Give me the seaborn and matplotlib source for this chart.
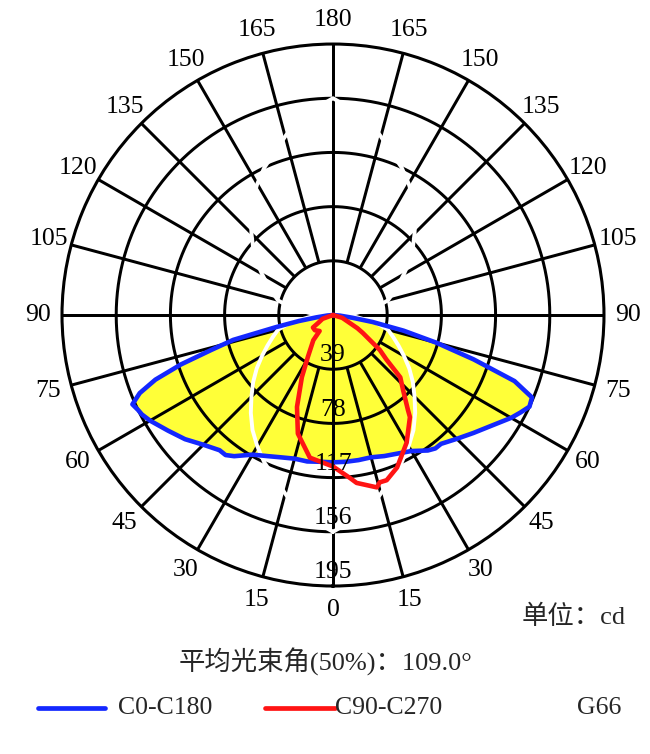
import numpy as np
import pandas as pd
import matplotlib
matplotlib.use("Agg")
import matplotlib.pyplot as plt
from matplotlib.lines import Line2D
import seaborn as sns

# ---------------- data (angles in degrees from nadir, intensity in cd) ----------------
ring_values = [39, 78, 117, 156, 195]
angle_step_labels = [0, 15, 30, 45, 60, 75, 90, 105, 120, 135, 150, 165, 180]

# C0-C180 (blue, filled yellow): right half (C0) and left half (C180)
blue_right_deg = [0, 5, 10, 15, 20, 25, 30, 35, 37.5, 40, 45, 50, 55, 60, 62.5, 65,
                  67.5, 70, 72.5, 75, 77.5, 80, 82, 85, 90]
blue_right_cd = [106, 106, 106, 106, 108, 110, 113, 119, 121, 121, 126, 132, 139, 148, 152, 156,
                 155, 139, 106, 77, 52, 29, 14, 5, 0]
blue_left_deg = [0, 5, 10, 15, 20, 25, 30, 35, 37.5, 40, 45, 50, 55, 60, 62.5, 64, 66,
                 68, 70, 72, 74, 76, 78, 80, 82, 85, 90]
blue_left_cd = [106, 106, 107, 107, 109, 112, 116, 124, 127, 127, 132, 139, 145, 152, 155, 156, 158,
                150, 136, 115, 91, 74, 42, 25, 12, 4, 0]

# C90-C270 (red) path, signed angle (negative = left side)
red_deg = [-90, -70, -62, -58, -50, -40, -38, -31, -26.6, -21.4, -16.5, -9.2, 0, 6, 8, 14.3,
           15.6, 18, 22.8, 30, 37, 38.3, 43, 47.2, 50.2, 53.3, 59, 61.6, 73, 90]
red_cd = [0, 8, 12, 17, 17, 15, 23, 35, 50, 71, 89, 104, 109, 118, 122, 128,
          125, 125, 119, 106, 92, 87, 74, 66, 50, 42, 25, 20, 7, 0]

# G66 (white) quarter profile, mirrored to all four quadrants
white_deg = [0, 10, 15, 20, 25, 30, 35, 40, 45, 50, 55, 60, 65, 70, 75, 80, 85, 90]
white_cd = [156, 144, 133, 124, 117, 109, 101, 92, 83, 75, 67, 59, 52, 46, 41, 31, 17, 0]

legend_names = ["C0-C180", "C90-C270", "G66"]
unit_text = "单位：cd"
beam_text = "平均光束角(50%)：109.0°"

# ---------------- build curves ----------------
br = np.array(blue_right_deg); bl = np.array(blue_left_deg)
blue_theta = np.deg2rad(np.concatenate([br[::-1], -bl]))
blue_r = np.concatenate([np.array(blue_right_cd)[::-1], np.array(blue_left_cd)])
blue_df = pd.DataFrame({"theta": blue_theta, "r": blue_r})

red_df = pd.DataFrame({"theta": np.deg2rad(red_deg), "r": red_cd})

wd = np.array(white_deg, dtype=float); wc = np.array(white_cd, dtype=float)
w_theta = np.concatenate([wd, 180 - wd[::-1], 180 + wd, 360 - wd[::-1]])
w_r = np.concatenate([wc, wc[::-1], wc, wc[::-1]])
white_df = pd.DataFrame({"theta": np.deg2rad(w_theta), "r": w_r})

# ---------------- figure ----------------
sns.set_theme(style="white")
plt.rcParams["font.family"] = ["Liberation Serif", "Noto Sans CJK SC", "DejaVu Sans"]

fig = plt.figure(figsize=(6.5, 7.54), dpi=100)
fig.patch.set_facecolor("white")
ax = fig.add_axes([0.0954, 0.2228, 0.8338, 0.7188], projection="polar")
ax.set_theta_zero_location("S")
ax.set_theta_direction(1)
ax.set_ylim(0, ring_values[-1])
ax.set_xticks([]); ax.set_yticks([])
ax.grid(False)
ax.set_facecolor("white")
ax.spines["polar"].set_linewidth(2.2)
ax.spines["polar"].set_color("black")

grid_lw = 2.15
full = np.linspace(0, 2 * np.pi, 721)
for v in ring_values[:-1]:
    ax.plot(full, np.full_like(full, v), color="black", lw=grid_lw, zorder=2)
for a in range(0, 360, 15):
    t = np.deg2rad(a)
    r0 = 0 if a % 90 == 0 else ring_values[0]
    ax.plot([t, t], [r0, ring_values[-1]], color="black", lw=grid_lw, zorder=2,
            solid_capstyle="butt")

# yellow fill under grid
ax.fill(blue_df["theta"], blue_df["r"], color="#FFFF38", zorder=1, lw=0)

sns.lineplot(data=white_df, x="theta", y="r", sort=False, estimator=None,
             color="white", lw=2.8, ax=ax, zorder=3)
sns.lineplot(data=blue_df, x="theta", y="r", sort=False, estimator=None,
             color="#1428FF", lw=3.3, ax=ax, zorder=4)
sns.lineplot(data=red_df, x="theta", y="r", sort=False, estimator=None,
             color="#FF1414", lw=3.3, ax=ax, zorder=5)
ax.set_xlabel(""); ax.set_ylabel("")
ax.set_xticks([]); ax.set_yticks([])

# angle labels
lab_r = 212
for a in angle_step_labels:
    for s in ([1, -1] if a not in (0, 180) else [1]):
        ax.text(np.deg2rad(s * a), lab_r, str(a), ha="center", va="center",
                fontsize=18.5, color="black", clip_on=False)

# radial value labels along the nadir
for v in ring_values:
    ax.text(0, v - 10, str(v), ha="center", va="center", fontsize=18.5,
            color="black", zorder=6)

# texts below
fig.text(0.803, 0.1817, unit_text, ha="left", va="center", fontsize=19)
fig.text(0.5, 0.122, beam_text, ha="center", va="center", fontsize=19)

# legend
ly = 1 - 708 / 754
key_lines = [((38, 105), "#1428FF"), ((265, 335), "#FF1414"), ((480, 547), "white")]
text_x = [118, 335, 577]
for (xs, col), tx, name in zip(key_lines, text_x, legend_names):
    fig.add_artist(Line2D([xs[0] / 650, xs[1] / 650], [ly, ly], color=col, lw=3.4,
                          transform=fig.transFigure, solid_capstyle="round"))
    fig.text(tx / 650, ly, name, ha="left", va="center", fontsize=18.5)

fig.savefig("out.png", dpi=100, facecolor="white")
